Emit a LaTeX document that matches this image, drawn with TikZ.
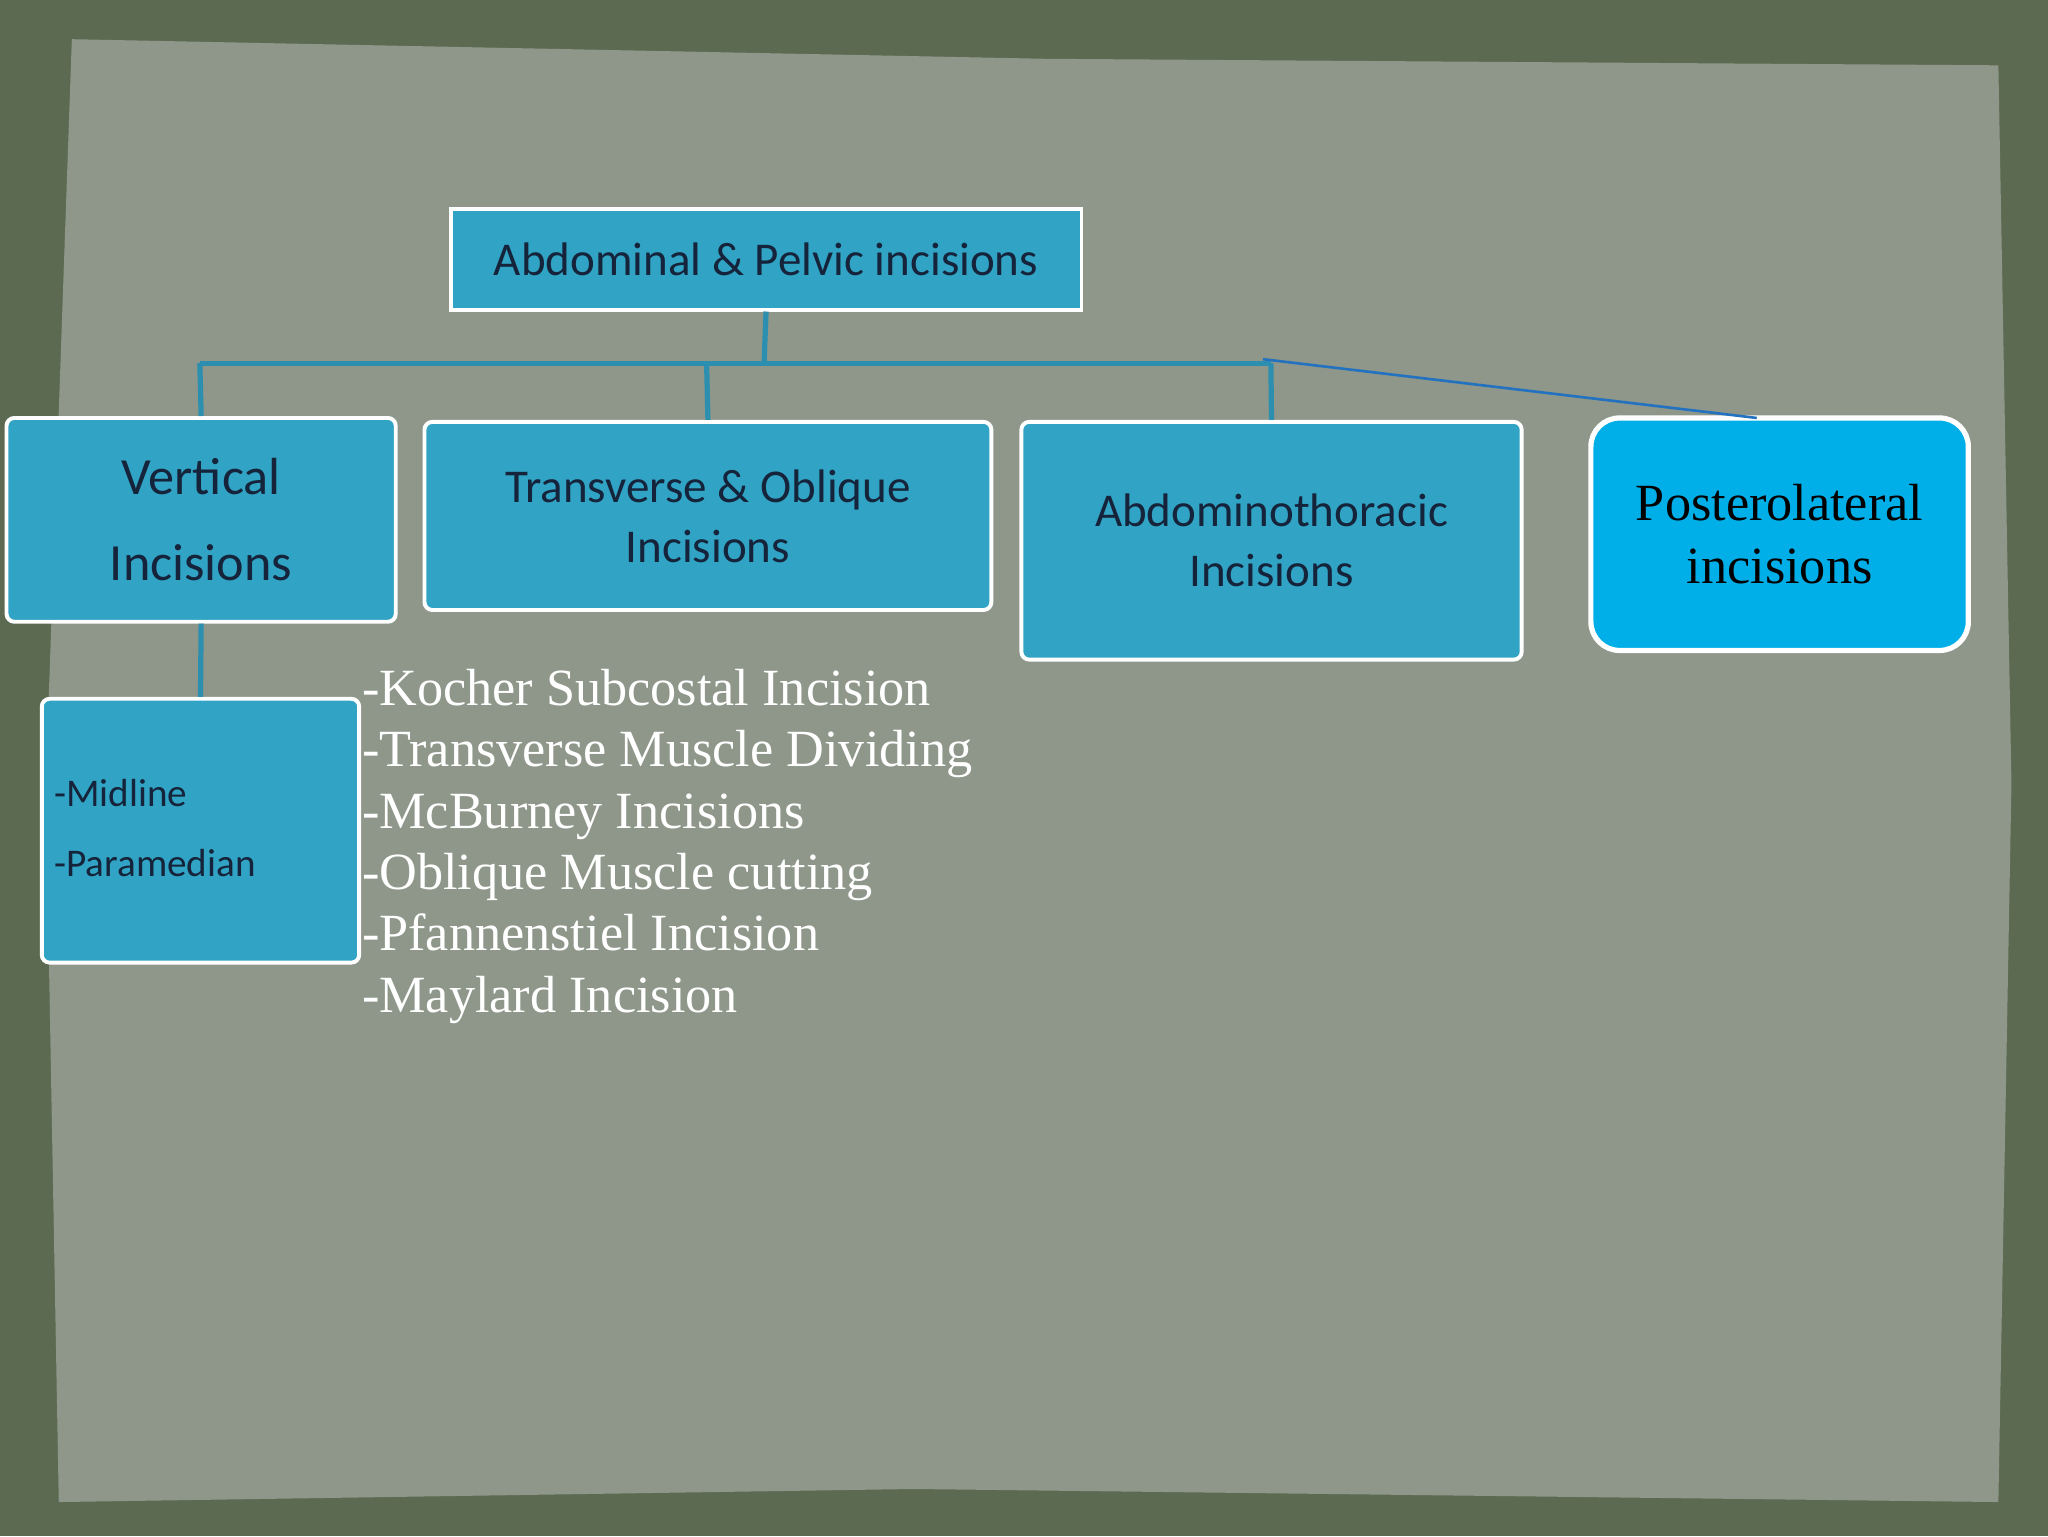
\documentclass[tikz,border=0pt]{standalone}
\usepackage{fontspec}
\setmainfont{Liberation Serif}
\newfontfamily\boxfont{Carlito}
\definecolor{frame}{HTML}{5C6A52}
\definecolor{paper}{HTML}{8E978A}
\definecolor{boxc}{HTML}{31A3C4}
\definecolor{boxline}{HTML}{2C8FB0}
\definecolor{posc}{HTML}{00AEE8}
\definecolor{navy}{HTML}{15243A}
\begin{document}
\begin{tikzpicture}[x=1pt,y=-1pt,
  bx/.style={draw=white,line width=3pt,fill=boxc,font=\boxfont\fontsize{36}{46}\selectfont,text=navy,align=center,inner sep=0pt},
  ln/.style={draw=boxline,line width=4pt}]
\useasboundingbox (0,0) rectangle (1568,1176);
\fill[frame] (0,0) rectangle (1568,1176);
\fill[paper] (55,30) -- (800,45) -- (1530,50) -- (1540,600) -- (1530,1150) -- (700,1140) -- (45,1150) -- (35,600) -- cycle;
\node[bx,minimum width=483,minimum height=77] (top) at (586.5,198.5) {Abdominal \& Pelvic incisions};
\node[bx,rounded corners=6pt,minimum width=298,minimum height=156,font=\boxfont\fontsize{40}{48}\selectfont] (ver) at (154,398) {Vertical\\[18pt]Incisions};
\node[bx,rounded corners=6pt,minimum width=434,minimum height=144] (tra) at (542,395) {Transverse \& Oblique\\Incisions};
\node[bx,rounded corners=6pt,minimum width=383,minimum height=182] (abd) at (973.5,414) {Abdominothoracic\\Incisions};
\node[draw=white,line width=4pt,fill=posc,rounded corners=22pt,minimum width=289,minimum height=178,align=center,font=\fontsize{40}{48}\selectfont,text=black] (pos) at (1362.5,409) {Posterolateral\\incisions};
\node[bx,rounded corners=6pt,minimum width=243,minimum height=202] (mid) at (153.5,636) {};
\node[anchor=west,font=\boxfont\fontsize{30}{36}\selectfont,text=navy,align=left] (midt) at (38,634) {-Midline\\[18pt]-Paramedian};
\coordinate (hub) at (585,278);
\coordinate (l) at (153,278);
\coordinate (m) at (541,278);
\coordinate (r) at (973,278);
\draw[ln] (top.south) -- (hub);
\draw[ln] (l) -- (r);
\draw[ln] (l) -- (ver.north);
\draw[ln] (m) -- (tra.north);
\draw[ln] (r) -- (abd.north);
\draw[ln] (ver.south) -- (mid.north);
\draw[draw=boxline!80!blue,line width=2pt] (967,275) -- (1345,320);
\node[anchor=north west,text=white,align=left,font=\fontsize{40}{47}\selectfont,inner sep=0pt] (list) at (277,512) {-Kocher Subcostal Incision\\-Transverse Muscle Dividing\\-McBurney Incisions\\-Oblique Muscle cutting\\-Pfannenstiel Incision\\-Maylard Incision};
\end{tikzpicture}
\end{document}
